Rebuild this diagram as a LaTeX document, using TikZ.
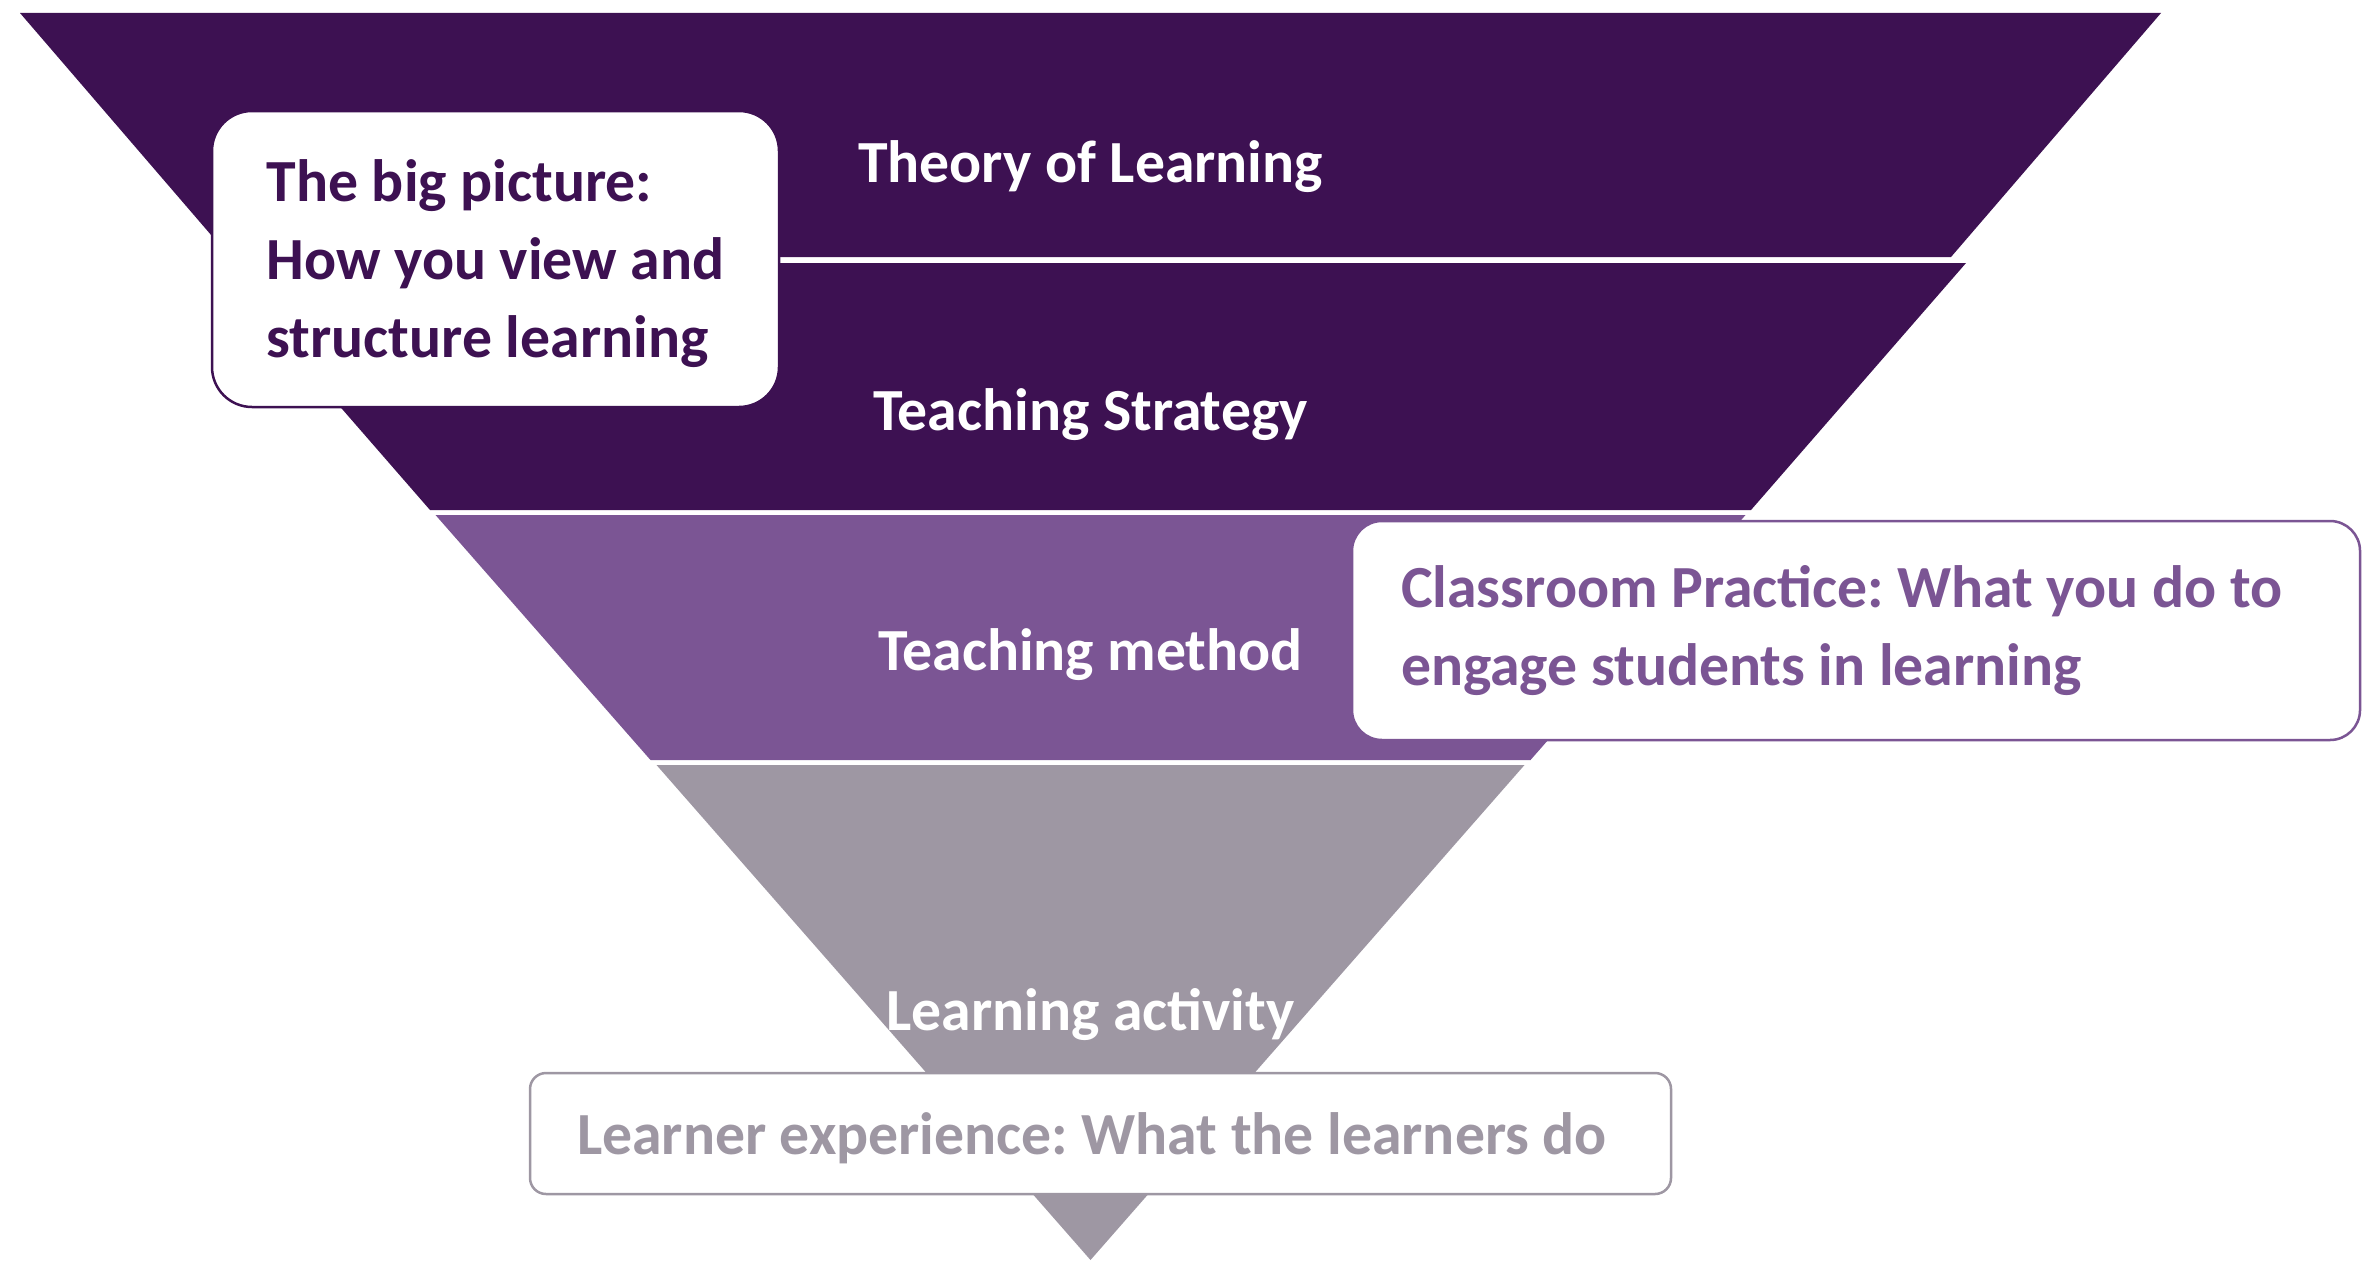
\documentclass[tikz,border=0pt]{standalone}
\usepackage{fontspec}
\setmainfont{Carlito}
\usetikzlibrary{positioning}
\definecolor{deep}{HTML}{3D1152}
\definecolor{mid}{HTML}{7B5594}
\definecolor{ash}{HTML}{9E97A3}

\begin{document}
\begin{tikzpicture}[x=0.1mm, y=-0.1mm,
	layer/.style={text=white, anchor=base, inner sep=0pt, font=\bfseries\fontsize{17}{22.2}\selectfont},
	note/.style={fill=white, line width=0.25mm, align=flush left, font=\bfseries\frenchspacing\fontsize{17}{22.2}\selectfont}]
\useasboundingbox (0,0) rectangle (2369,1275);
\foreach \t/\b/\wt/\wb/\c/\n/\ty/\txt in {13/257/1070.5/860.5/deep/tl/183/Theory of Learning, 263/510/875.5/660.5/deep/ts/430/Teaching Strategy, 515/760/655/440/mid/tm/670/Teaching method, 765/1260/434/0/ash/la/1030/Learning activity}{
	\fill[\c] (1090.5-\wt,\t) -- (1090.5+\wt,\t) -- (1090.5+\wb,\b) -- (1090.5-\wb,\b) -- cycle;
	\node[layer] (\n) at (1090.5,\ty) {\txt};
}
\node[note, draw=deep, text=deep, minimum width=56.7mm, minimum height=29.6mm, text depth=0pt, rounded corners=4mm] (bp) at (495.5,259) {The big picture:\\How you view and\\structure learning};
\node[note, draw=mid, text=mid, minimum width=100.8mm, minimum height=21.9mm, text width=91mm, inner xsep=4.9mm, rounded corners=3mm] (cp) at (1856,630.5) {Classroom Practice: What you do to\\engage students in learning};
\node[note, draw=ash, text=ash, minimum width=114.1mm, minimum height=12.1mm, text width=104.7mm, inner xsep=4.7mm, text depth=0pt, rounded corners=1.6mm] (le) at (1100.5,1133.5) {Learner experience: What the learners do};
\end{tikzpicture}
\end{document}
